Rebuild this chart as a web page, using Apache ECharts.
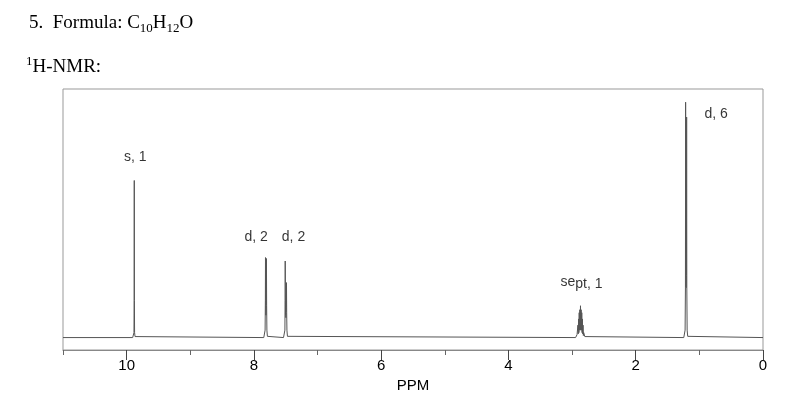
<!DOCTYPE html>
<html><head><meta charset="utf-8">
<script src="https://cdn.jsdelivr.net/npm/echarts@6/dist/echarts.min.js"></script>
<style>html,body{margin:0;padding:0;background:#fff}#c{width:786px;height:398px}</style>
</head><body><div id="c"></div>
<script>
// Spectrum trace: chemical shift (ppm) and relative intensity
const ppm = [11.0,
  9.905, 9.892, 9.885, 9.882, 9.880, 9.878, 9.875, 9.868, 9.855,
  7.845, 7.832, 7.824, 7.820, 7.818, 7.815, 7.811, 7.806, 7.803, 7.800, 7.796, 7.788, 7.775,
  7.535, 7.522, 7.513, 7.510, 7.508, 7.503, 7.497, 7.491, 7.488, 7.485, 7.481, 7.473, 7.460,
  2.945, 2.930, 2.922, 2.918, 2.913, 2.908, 2.903, 2.898, 2.893, 2.888, 2.883, 2.878, 2.873, 2.868, 2.863, 2.858, 2.853, 2.848, 2.843, 2.838, 2.833, 2.828, 2.823, 2.818, 2.812, 2.800, 2.790,
  1.245, 1.233, 1.224, 1.219, 1.216, 1.212, 1.208, 1.203, 1.200, 1.197, 1.192, 1.183, 1.170,
  0.0];
const intensity = [0,
  0, 0.004, 0.02, 0.15, 0.632, 0.15, 0.02, 0.004, 0,
  0, 0.005, 0.03, 0.15, 0.322, 0.13, 0.09, 0.13, 0.318, 0.13, 0.03, 0.005, 0,
  0, 0.005, 0.03, 0.15, 0.308, 0.09, 0.08, 0.12, 0.221, 0.10, 0.03, 0.005, 0,
  0, 0.004, 0.012, 0.02, 0.008, 0.05, 0.015, 0.075, 0.02, 0.10, 0.03, 0.112, 0.03, 0.128, 0.03, 0.112, 0.03, 0.10, 0.02, 0.075, 0.015, 0.05, 0.008, 0.02, 0.012, 0.004, 0,
  0, 0.005, 0.03, 0.2, 0.947, 0.25, 0.2, 0.25, 0.887, 0.2, 0.03, 0.005, 0,
  0];
// Peak annotations
const annoText = ['s, 1', 'd, 2', 'd, 2', '{a|se}{b|pt, 1}', 'd, 6'];
const annoPpm = [9.863, 7.965, 7.378, 2.852, 0.735];
const annoVal = [0.725, 0.405, 0.405, 0.219, 0.90];
// Axis ticks
const majorTicks = [0, 2, 4, 6, 8, 10];
const minorTicks = [1, 3, 5, 7, 9, 11];

const chart = echarts.init(document.getElementById('c'), null, {renderer: 'canvas'});
const gridPos = {left: 63, right: 23, top: 89, bottom: 48};
chart.setOption({
  animation: false,
  backgroundColor: '#fff',
  graphic: [
    {type: 'text', left: 29, top: 11, style: {
      text: '5.  Formula: C{sub|10}H{sub|12}O',
      font: '19px "Liberation Serif"', fill: '#000', lineHeight: 24,
      rich: {sub: {fontSize: 13, fontFamily: 'Liberation Serif', lineHeight: 14, verticalAlign: 'bottom'}}
    }},
    {type: 'text', left: 26, top: 55, style: {
      text: '{sup|1}H-NMR:',
      font: '19px "Liberation Serif"', fill: '#000', lineHeight: 24,
      rich: {sup: {fontSize: 13, fontFamily: 'Liberation Serif', lineHeight: 14, verticalAlign: 'top'}}
    }}
  ],
  grid: [
    Object.assign({show: true, borderColor: '#999', borderWidth: 1, backgroundColor: 'transparent'}, gridPos),
    Object.assign({show: false}, gridPos)
  ],
  xAxis: [
    {type: 'value', gridIndex: 0, min: 0, max: 11, inverse: true, position: 'bottom',
     name: 'PPM', nameLocation: 'middle', nameGap: 24,
     nameTextStyle: {fontSize: 15, color: '#000', fontFamily: 'Liberation Sans'},
     axisLine: {show: true, onZero: false, lineStyle: {color: '#888', width: 1}},
     axisTick: {show: true, customValues: majorTicks, length: 10, lineStyle: {color: '#444'}},
     axisLabel: {show: true, customValues: majorTicks, margin: 8, fontSize: 15, color: '#000', fontFamily: 'Liberation Sans'},
     splitLine: {show: false}},
    {type: 'value', gridIndex: 1, min: 0, max: 11, inverse: true, position: 'bottom',
     axisLine: {show: false, onZero: false},
     axisTick: {show: true, customValues: minorTicks, length: 5, lineStyle: {color: '#666'}},
     axisLabel: {show: false},
     splitLine: {show: false}}
  ],
  yAxis: [
    {type: 'value', gridIndex: 0, min: -0.05, max: 1, show: false, splitLine: {show: false}},
    {type: 'value', gridIndex: 1, min: -0.05, max: 1, show: false, splitLine: {show: false}}
  ],
  series: [
    {type: 'line', xAxisIndex: 0, yAxisIndex: 0,
     data: ppm.map((p, i) => [p, intensity[i]]),
     showSymbol: false, symbol: 'none', silent: true,
     lineStyle: {color: '#555', width: 1}},
    {type: 'scatter', xAxisIndex: 0, yAxisIndex: 0, symbolSize: 0, silent: true,
     data: annoPpm.map((p, i) => [p, annoVal[i]]),
     label: {show: true, position: 'inside', fontSize: 14, color: '#000', fontFamily: 'Liberation Sans',
       formatter: (pr) => annoText[pr.dataIndex],
       rich: {a: {fontSize: 14, color: '#000', lineHeight: 16, verticalAlign: 'top'},
              b: {fontSize: 14, color: '#000', lineHeight: 16, verticalAlign: 'bottom'}},
       lineHeight: 19}}
  ]
});
</script></body></html>
